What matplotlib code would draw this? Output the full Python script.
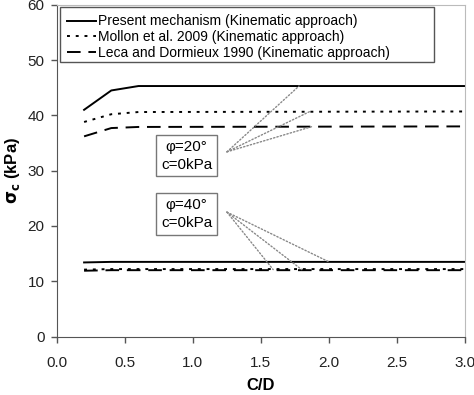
import matplotlib
matplotlib.use('Agg')
import matplotlib.pyplot as plt
from matplotlib.patches import Rectangle

plt.rcParams['font.family'] = ['Liberation Sans', 'DejaVu Sans']

# C/D ratios
cd = [0.2, 0.4, 0.6, 3.0]

# phi = 20 deg, c = 0 kPa
present_20 = [41.0, 44.5, 45.3, 45.3]
mollon_20 = [38.8, 40.2, 40.6, 40.7]
leca_20 = [36.2, 37.7, 37.9, 38.0]

# phi = 40 deg, c = 0 kPa
present_40 = [13.4, 13.5, 13.5, 13.5]
mollon_40 = [12.1, 12.2, 12.2, 12.2]
leca_40 = [11.9, 12.0, 12.0, 12.0]

labels = ['Present mechanism (Kinematic approach)',
          'Mollon et al. 2009 (Kinematic approach)',
          'Leca and Dormieux 1990 (Kinematic approach)']

fig = plt.figure(figsize=(4.74, 3.95), dpi=100)
ax = fig.add_axes([0.120, 0.148, 0.861, 0.840])

ax.plot(cd, present_20, color='black', lw=1.4, ls='-', label=labels[0])
ax.plot(cd, mollon_20, color='black', lw=1.4, ls=(0, (1.5, 3)), label=labels[1])
ax.plot(cd, leca_20, color='black', lw=1.4, ls=(0, (7, 4)), label=labels[2])
ax.plot(cd, present_40, color='black', lw=1.4, ls='-')
ax.plot(cd, mollon_40, color='black', lw=1.4, ls=(0, (1.5, 3)))
ax.plot(cd, leca_40, color='black', lw=1.4, ls=(0, (7, 4)))

ax.set_xlim(0, 3.0)
ax.set_ylim(0, 60)
ax.set_xticks([0.0, 0.5, 1.0, 1.5, 2.0, 2.5, 3.0])
ax.set_xticklabels(['0.0', '0.5', '1.0', '1.5', '2.0', '2.5', '3.0'])
ax.set_yticks([0, 10, 20, 30, 40, 50, 60])
ax.tick_params(labelsize=11, length=4, width=1, color='#555555', labelcolor='#222222')
ax.tick_params(axis='x', pad=10)
ax.tick_params(axis='y', pad=5)
for s in ['left', 'bottom']:
    ax.spines[s].set_color('#555555')
for s in ['top', 'right']:
    ax.spines[s].set_color('#bbbbbb')

ax.set_xlabel('C/D', fontsize=12, fontweight='bold', labelpad=6)
ax.set_ylabel(r'$\mathbf{\sigma_c}$ (kPa)', fontsize=12, fontweight='bold', labelpad=4)

# legend frame is wider than its text, like the original
ax.add_patch(Rectangle((0.007, 0.827), 0.917, 0.166, transform=ax.transAxes,
                       fc='white', ec='#555555', lw=1, zorder=4))
leg = ax.legend(loc='upper left', bbox_to_anchor=(0.0, 1.0), fontsize=10,
                handlelength=2.1, handletextpad=0.15, borderpad=0.2,
                labelspacing=0.12, frameon=False)
leg.set_zorder(5)

box = dict(boxstyle='square,pad=0.3', fc='white', ec='#777777', lw=1)
arrow = dict(arrowstyle='-', color='#888888', lw=1, ls=(0, (1, 1.5)), shrinkA=0, shrinkB=0)

ax.text(0.765, 32.7, '\u03c6=20\u00b0\nc=0kPa', fontsize=11, ha='left', va='center',
        multialignment='center', linespacing=1.4, bbox=box)
for x, y in [(1.78, 45.3), (1.86, 40.7), (1.88, 38.0)]:
    ax.annotate('', xy=(x, y), xytext=(1.25, 33.4), arrowprops=arrow)

ax.text(0.765, 22.2, '\u03c6=40\u00b0\nc=0kPa', fontsize=11, ha='left', va='center',
        multialignment='center', linespacing=1.4, bbox=box)
for x, y in [(2.0, 13.5), (1.8, 12.1), (1.59, 12.1)]:
    ax.annotate('', xy=(x, y), xytext=(1.25, 22.5), arrowprops=arrow)

plt.savefig('out.png', dpi=100)
